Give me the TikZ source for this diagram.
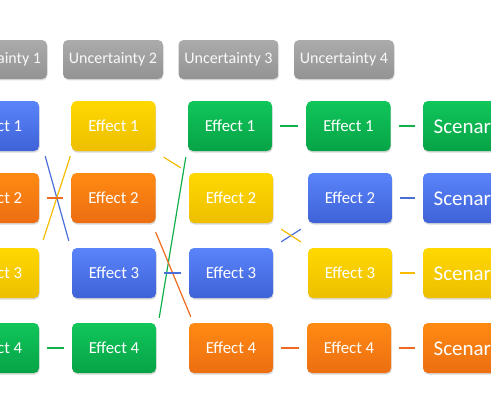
\documentclass[tikz,border=0pt]{standalone}
\usepackage{fontspec}
\setmainfont{Carlito}
\usetikzlibrary{shadows,calc}
\definecolor{bTop}{HTML}{5A84FA}\definecolor{bBot}{HTML}{3F62D8}
\definecolor{yTop}{HTML}{FFD800}\definecolor{yBot}{HTML}{EDBF00}
\definecolor{gTop}{HTML}{10C65A}\definecolor{gBot}{HTML}{07A346}
\definecolor{oTop}{HTML}{FF8A12}\definecolor{oBot}{HTML}{EC6E12}
\definecolor{kTop}{HTML}{ABABAB}\definecolor{kBot}{HTML}{939393}
\definecolor{bLine}{HTML}{4A6FD8}\definecolor{yLine}{HTML}{F5BC00}
\definecolor{gLine}{HTML}{12B04A}\definecolor{oLine}{HTML}{EE6A1E}
\tikzset{
  box/.style={rounded corners=5pt, minimum width=84pt, minimum height=50pt,
    text=white, font=\fontsize{16.8}{19}\selectfont, inner sep=0pt,
    drop shadow={opacity=0.3, shadow xshift=0.6pt, shadow yshift=-1.6pt}},
  scen/.style={box, minimum width=110pt, font=\fontsize{21}{24}\selectfont},
  hdr/.style={rounded corners=5pt, minimum width=100pt, minimum height=39pt,
    text=white!95!gray, font=\fontsize{16}{18}\selectfont, inner sep=0pt,
    top color=kTop, bottom color=kBot,
    drop shadow={opacity=0.25, shadow xshift=0.6pt, shadow yshift=-1.4pt}},
  bb/.style={box, top color=bTop, bottom color=bBot},
  yy/.style={box, top color=yTop, bottom color=yBot},
  gg/.style={box, top color=gTop, bottom color=gBot},
  oo/.style={box, top color=oTop, bottom color=oBot},
  bs/.style={scen, top color=bTop, bottom color=bBot},
  ys/.style={scen, top color=yTop, bottom color=yBot},
  gs/.style={scen, top color=gTop, bottom color=gBot},
  os/.style={scen, top color=oTop, bottom color=oBot},
  ln/.style={line width=1.2pt},
  hl/.style={ln, shorten <=8pt, shorten >=8pt},
}
\begin{document}
\begin{tikzpicture}[x=1pt,y=-1pt]
\useasboundingbox (0,0) rectangle (491,415);
\clip (0,0) rectangle (491,415);
\fill[white] (0,0) rectangle (491,415);
% headers
\node[hdr] (u1) at (-3,59.5) {Uncertainty 1};
\node[hdr] (u2) at (113,59.5) {Uncertainty 2};
\node[hdr] (u3) at (228.5,59.5) {Uncertainty 3};
\node[hdr] (u4) at (344,59.5) {Uncertainty 4};
% column 1
\node[bb] (n11) at (-3,126) {Effect 1};
\node[oo] (n12) at (-3,198) {Effect 2};
\node[yy] (n13) at (-3,273) {Effect 3};
\node[gg] (n14) at (-3,348) {Effect 4};
% column 2
\node[yy] (n21) at (113.5,126) {Effect 1};
\node[oo] (n22) at (113.5,198) {Effect 2};
\node[bb] (n23) at (114,273) {Effect 3};
\node[gg] (n24) at (114,348) {Effect 4};
% column 3
\node[gg] (n31) at (230,126) {Effect 1};
\node[yy] (n32) at (231,198) {Effect 2};
\node[bb] (n33) at (231,273) {Effect 3};
\node[oo] (n34) at (231,348) {Effect 4};
% column 4
\node[gg] (n41) at (348.5,126) {Effect 1};
\node[bb] (n42) at (350,198) {Effect 2};
\node[yy] (n43) at (350,273) {Effect 3};
\node[oo] (n44) at (349,348) {Effect 4};
% scenarios
\node[gs] (n51) at (478,126) {Scenario 1};
\node[bs] (n52) at (478,198) {Scenario 2};
\node[ys] (n53) at (478,273) {Scenario 3};
\node[os] (n54) at (478,348) {Scenario 4};
% connectors col1-col2
\draw[ln,bLine] ($(n11.south east)+(6,5)$) -- ($(n23.north west)+(-3,-7)$);
\draw[ln,yLine] ($(n13.north east)+(4,-8)$) -- ($(n21.south west)+(-1,5)$);
\draw[hl,oLine] (n12.east) -- (n22.west);
\draw[hl,gLine] (n14.east) -- (n24.west);
% col2-col3
\draw[ln,yLine] ($(n21.south east)+(8,6)$) -- ($(n32.north west)+(-8,-5)$);
\draw[ln,gLine] ($(n31.south west)+(-2,6)$) -- ($(n24.north east)+(3,-5)$);
\draw[ln,oLine] ($(n22.south east)+(0,9)$) -- ($(n34.north west)+(2,-6)$);
\draw[hl,bLine] (n23.east) -- (n33.west);
% col3-col4
\draw[hl,gLine] (n31.east) -- (n41.west);
\draw[ln,bLine] ($(n33.north east)+(8,-6)$) -- ($(n42.south west)+(-7,6)$);
\draw[ln,yLine] ($(n32.south east)+(8,6)$) -- ($(n43.north west)+(-7,-6)$);
\draw[hl,oLine] (n34.east) -- (n44.west);
% col4-scenarios
\draw[hl,gLine] (n41.east) -- (n51.west);
\draw[hl,bLine] (n42.east) -- (n52.west);
\draw[hl,yLine] (n43.east) -- (n53.west);
\draw[hl,oLine] (n44.east) -- (n54.west);
\end{tikzpicture}
\end{document}
